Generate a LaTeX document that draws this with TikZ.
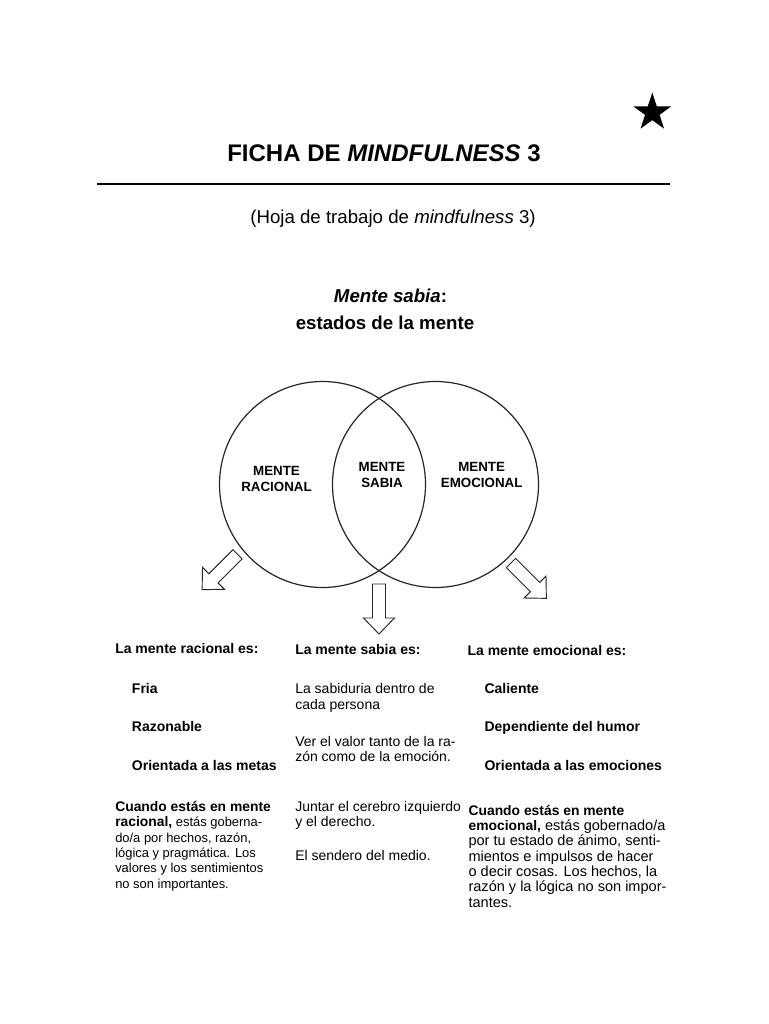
\documentclass[tikz,border=0pt]{standalone}
\usepackage{fontspec}
\setmainfont{Liberation Sans}
\usetikzlibrary{shapes.geometric, positioning}

\newcommand{\boldlead}[1]{{\fontsize{10.4}{11.5}\selectfont\bfseries #1}}

\begin{document}
\begin{tikzpicture}[
    x=0.75pt, y=-0.75pt,
    venn/.style={circle, draw=black!85, line width=0.9pt, minimum size=154.5pt, inner sep=0pt},
    vennlabel/.style={align=center, inner sep=0pt, anchor=base, font=\fontsize{10}{11.8}\selectfont\bfseries},
    colhead/.style={anchor=base west, inner sep=0pt, font=\fontsize{10.5}{11.5}\selectfont\bfseries},
    colitem/.style={anchor=base west, inner sep=0pt, align=left, font=\fontsize{10.5}{11.5}\selectfont},
    pics/hollowarrow/.style={code={
        \draw[line width=0.7pt, draw=black!85, fill=white] (0,6.5) -- (34,6.5) -- (34,15.5) -- (50,0) -- (34,-15.5) -- (34,-6.5) -- (0,-6.5) -- cycle;}}
]
    \fill[white] (0,0) rectangle (768,1024);
    \useasboundingbox (0,0) rectangle (768,1024);

    % Header
    \node[star, star points=5, star point ratio=2.618, fill=black, minimum size=30pt, inner sep=0pt] (estrella) at (652.3,112.5) {};
    \node[anchor=base, inner sep=0pt, font=\fontsize{18}{21}\selectfont\bfseries] (titulo) at (384,161.7) {FICHA DE \textit{MINDFULNESS} 3};
    \draw[line width=1.5pt] (97,184.3) -- (670,184.3);
    \node[anchor=base, inner sep=0pt, font=\fontsize{14}{17}\selectfont] (hoja) at (393,223.3) {(Hoja de trabajo de \textit{mindfulness} 3)};
    \node[anchor=base, inner sep=0pt, font=\fontsize{14}{17}\selectfont\bfseries] (sabia) at (390.5,302.3) {\textit{Mente sabia}:};
    \node[anchor=base, inner sep=0pt, font=\fontsize{14}{17}\selectfont\bfseries] (estados) at (385,329.3) {estados de la mente};

    % Venn diagram (base = last line)
    \node[venn] (racional) at (322.5,484.5) {};
    \node[venn] (emocional) at (435.5,484.5) {};
    \node[vennlabel] (lracional) at (276.5,491.7) {MENTE\\RACIONAL};
    \node[vennlabel] (lsabia) at (382,487.3) {MENTE\\SABIA};
    \node[vennlabel] (lemocional) at (481.7,487.3) {MENTE\\EMOCIONAL};

    % Hollow arrows
    \pic[rotate=-135] at (237.5,554.3) {hollowarrow};
    \pic[rotate=-90] at (379,584) {hollowarrow};
    \pic[rotate=-45] at (511,563) {hollowarrow};

    % Left column
    \node[colhead] (rhead) at (115,653.3) {La mente racional es:};
    \node[colhead] (fria) at (131.7,693.3) {Fria};
    \node[colhead] (razonable) at (131.7,731.7) {Razonable};
    \node[colhead] (metas) at (131.7,770) {Orientada a las metas};
    \node[colitem, font=\fontsize{9.7}{11.5}\selectfont] (rpar) at (115,888.3) {\boldlead{Cuando estás en mente}\\\boldlead{racional,} estás goberna-\\do/a por hechos, razón,\\lógica y pragmática. Los\\valores y los sentimientos\\no son importantes.};

    % Middle column
    \node[colhead] (shead) at (295,654) {La mente sabia es:};
    \node[colitem] (sabiduria) at (295,709) {La sabiduria dentro de\\cada persona};
    \node[colitem] (valor) at (295,761.7) {Ver el valor tanto de la ra-\\zón como de la emoción.};
    \node[colitem] (cerebro) at (295,826.7) {Juntar el cerebro izquierdo\\y el derecho.};
    \node[colitem] (sendero) at (295,860) {El sendero del medio.};

    % Right column
    \node[colhead] (ehead) at (467.3,655) {La mente emocional es:};
    \node[colhead] (caliente) at (484.3,693.3) {Caliente};
    \node[colhead] (humor) at (484.3,731.7) {Dependiente del humor};
    \node[colhead] (emociones) at (484.3,770) {Orientada a las emociones};
    \node[colitem, font=\fontsize{10.9}{11.5}\selectfont] (epar) at (468.3,907.3) {\boldlead{Cuando estás en mente}\\\boldlead{emocional,} estás gobernado/a\\por tu estado de ánimo, senti-\\mientos e impulsos de hacer\\o decir cosas. Los hechos, la\\razón y la lógica no son impor-\\tantes.};
\end{tikzpicture}
\end{document}
